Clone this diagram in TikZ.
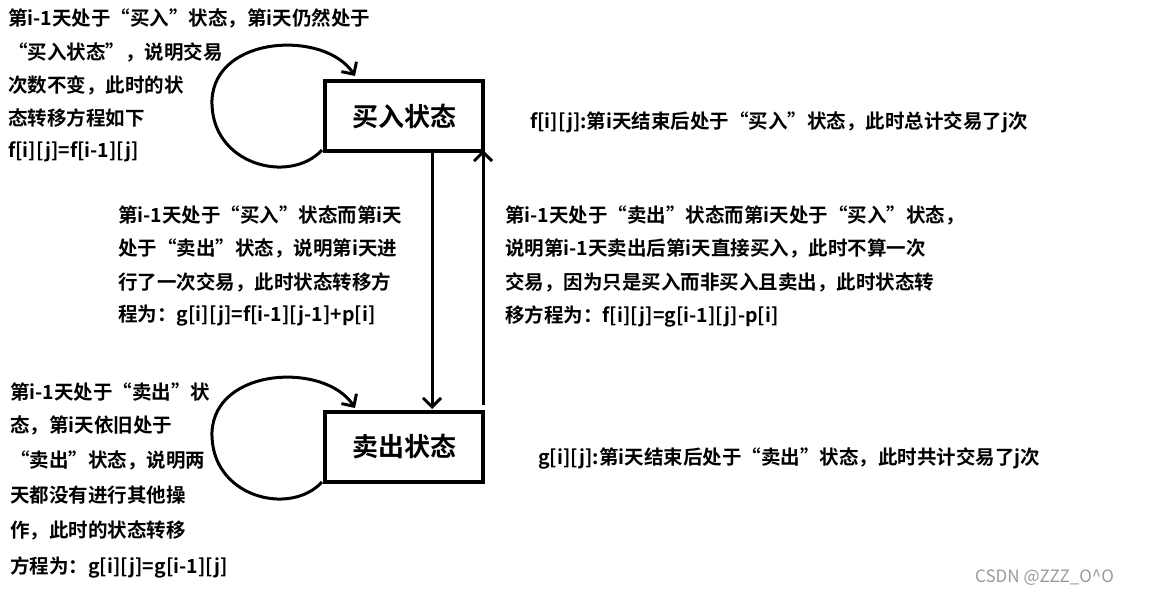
\documentclass[tikz,border=0pt]{standalone}
\usepackage{fontspec}
\setmainfont{Noto Sans CJK SC}[BoldFont={Noto Sans CJK SC Bold}]
\usetikzlibrary{arrows.meta}
\begin{document}
\begin{tikzpicture}[x=1pt,y=-1pt,
  txt/.style={anchor=west,inner sep=0pt,font=\fontsize{19.5}{19.5}\selectfont\bfseries},
  state/.style={draw,line width=4pt,minimum width=158pt,minimum height=70pt,font=\fontsize{26}{26}\selectfont\bfseries},
  arr/.style={line width=3pt,-{Straight Barb[length=9pt,width=18pt]}}]
\useasboundingbox (0,0) rectangle (1152,597);
\node[state] (buy) at (404,116) {买入状态};
\node[state] (sell) at (404,447) {卖出状态};
\draw[arr] (432,152) -- (432,409);
\draw[arr] (483,405) -- (483,150);
% self loops
\draw[arr] (322,150) .. controls (290,185) and (210,165) .. (212,100)
  .. controls (215,35) and (325,30) .. (355,76);
\draw[arr] (322,482) .. controls (290,517) and (210,497) .. (212,432)
  .. controls (215,367) and (325,362) .. (355,408);
% texts
\node[txt] (t1) at (8,18) {第i-1天处于“买入”状态，第i天仍然处于};
\node[txt] (t2) at (8,52) {“买入状态”，说明交易};
\node[txt] (t3) at (8,85) {次数不变，此时的状};
\node[txt] (t4) at (8,118) {态转移方程如下};
\node[txt] (t5) at (8,152) {f[i][j]=f[i-1][j]};
\node[txt] (r1) at (530,122) {f[i][j]:第i天结束后处于“买入”状态，此时总计交易了j次};
\node[txt] (m1) at (118,215) {第i-1天处于“买入”状态而第i天};
\node[txt] (m2) at (118,248) {处于“卖出”状态，说明第i天进};
\node[txt] (m3) at (118,282) {行了一次交易，此时状态转移方};
\node[txt] (m4) at (118,316) {程为：g[i][j]=f[i-1][j-1]+p[i]};
\node[txt] (n1) at (505,215) {第i-1天处于“卖出”状态而第i天处于“买入”状态，};
\node[txt] (n2) at (505,248) {说明第i-1天卖出后第i天直接买入，此时不算一次};
\node[txt] (n3) at (505,282) {交易，因为只是买入而非买入且卖出，此时状态转};
\node[txt] (n4) at (505,316) {移方程为：f[i][j]=g[i-1][j]-p[i]};
\node[txt] (b1) at (10,392) {第i-1天处于“卖出”状};
\node[txt] (b2) at (10,425) {态，第i天依旧处于};
\node[txt] (b3) at (10,460) {“卖出”状态，说明两};
\node[txt] (b4) at (10,495) {天都没有进行其他操};
\node[txt] (b5) at (10,530) {作，此时的状态转移};
\node[txt] (b6) at (10,567) {方程为：g[i][j]=g[i-1][j]};
\node[txt] (r2) at (538,458) {g[i][j]:第i天结束后处于“卖出”状态，此时共计交易了j次};
\node[anchor=west,inner sep=0pt,text=gray!80,font=\fontsize{17}{17}\selectfont] (w) at (975,578) {CSDN @ZZZ\_O\^{}O};
\end{tikzpicture}
\end{document}
